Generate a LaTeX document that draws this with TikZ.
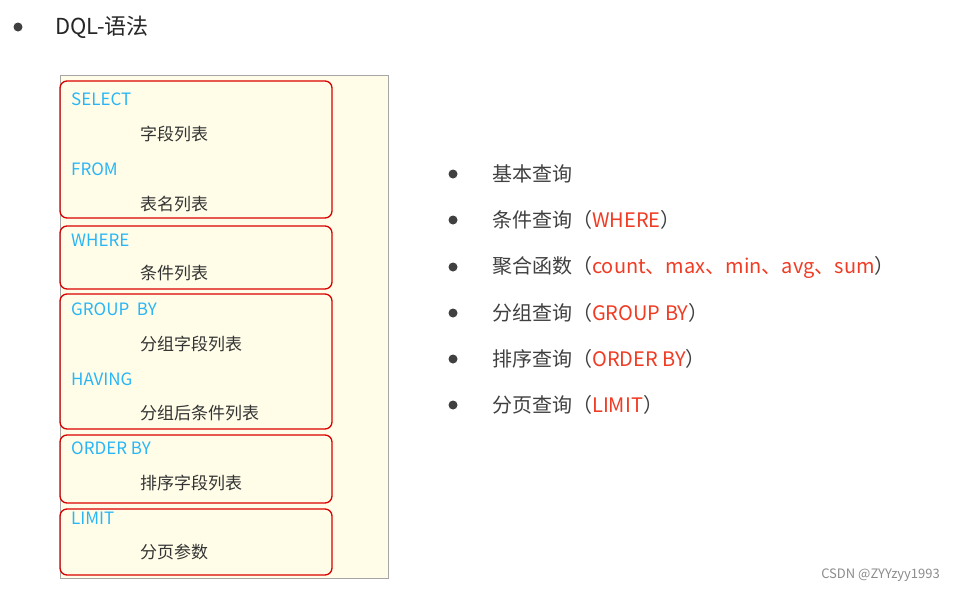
\documentclass[tikz,border=0pt]{standalone}
\usepackage{fontspec}
\setmainfont{Noto Sans CJK SC}
\begin{document}
\begin{tikzpicture}[x=1pt,y=-1pt,
  kw/.style={anchor=west,inner sep=0pt,text=kwblue,font=\fontsize{17}{17}\selectfont},
  it/.style={anchor=west,inner sep=0pt,text=black!80,font=\fontsize{17}{17}\selectfont},
  grp/.style={draw=red!85!black,line width=1.3pt,rounded corners=7pt},
  li/.style={anchor=west,inner sep=0pt,text=black!75,font=\fontsize{20}{20}\selectfont},
  dot/.style={circle,fill=black!75,inner sep=0pt,minimum size=9pt}]
\definecolor{kwblue}{HTML}{29B6F6}
\definecolor{redt}{HTML}{F03C24}
\definecolor{panel}{HTML}{FFFDE8}
\useasboundingbox (0,0) rectangle (954,592);
\fill[white] (0,0) rectangle (954,592);
\node[dot] (b0) at (18,27) {};
\node[anchor=west,inner sep=0pt,font=\fontsize{22}{22}\selectfont,text=black!85] (title) at (55,27) {DQL-语法};
\draw[fill=panel,draw=black!35] (60,75) rectangle (388,578);
\draw[grp] (60,81) rectangle (332,218);
\draw[grp] (60,226) rectangle (332,289);
\draw[grp] (60,294) rectangle (332,429);
\draw[grp] (60,435) rectangle (332,503);
\draw[grp] (60,509) rectangle (332,575);
\node[kw] (k1) at (71,99) {SELECT};
\node[kw] (k2) at (71,169) {FROM};
\node[kw] (k3) at (71,240) {WHERE};
\node[kw] (k4) at (71,309) {GROUP\ \ BY};
\node[kw] (k5) at (71,379) {HAVING};
\node[kw] (k6) at (71,448) {ORDER BY};
\node[kw] (k7) at (71,518) {LIMIT};
\node[it] (t1) at (140,134) {字段列表};
\node[it] (t2) at (140,204) {表名列表};
\node[it] (t3) at (140,273) {条件列表};
\node[it] (t4) at (140,344) {分组字段列表};
\node[it] (t5) at (140,413) {分组后条件列表};
\node[it] (t6) at (140,483) {排序字段列表};
\node[it] (t7) at (140,552) {分页参数};
\foreach \y/\n in {174/1,220/2,267/3,313/4,359/5,405/6} \node[dot] (d\n) at (453,\y) {};
\node[li] (l1) at (492,174) {基本查询};
\node[li] (l2) at (492,220) {条件查询（\textcolor{redt}{WHERE}）};
\node[li] (l3) at (492,267) {聚合函数（\textcolor{redt}{count、max、min、avg、sum}）};
\node[li] (l4) at (492,313) {分组查询（\textcolor{redt}{GROUP BY}）};
\node[li] (l5) at (492,359) {排序查询（\textcolor{redt}{ORDER BY}）};
\node[li] (l6) at (492,405) {分页查询（\textcolor{redt}{LIMIT}）};
\node[anchor=east,inner sep=0pt,text=black!45,font=\fontsize{13}{13}\selectfont] (wm) at (940,575) {CSDN @ZYYzyy1993};
\end{tikzpicture}
\end{document}
